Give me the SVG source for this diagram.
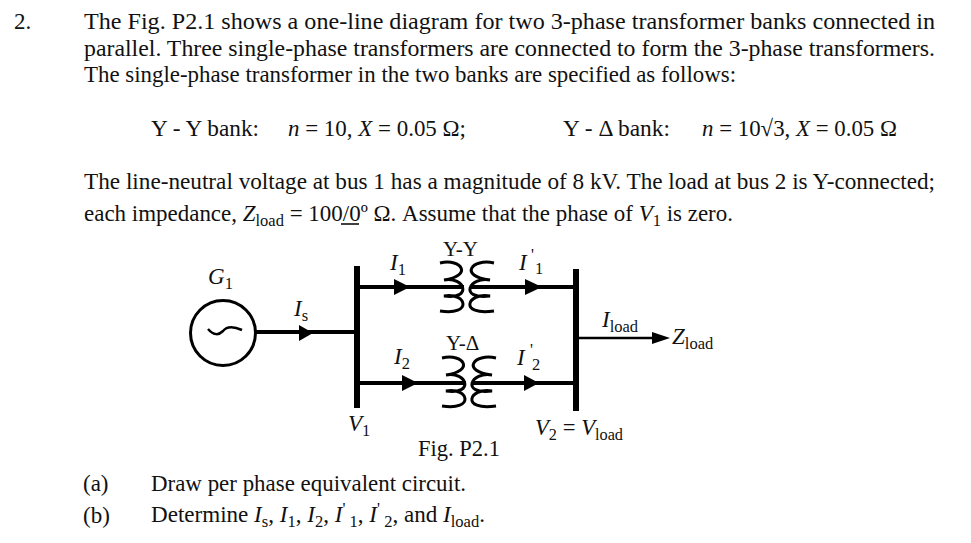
<svg xmlns="http://www.w3.org/2000/svg" width="971" height="543" viewBox="0 0 971 543">
<defs>
<style>
text{font-family:"Liberation Serif","Times New Roman",serif;font-size:23px;fill:#111}
.i{font-style:italic}
.n{font-style:normal}
.s{font-size:16.5px}
.d{font-size:21px}
.w{fill:none;stroke:#000;stroke-width:4;stroke-linecap:butt}
.c{fill:none;stroke:#000;stroke-width:3}
.b{fill:none;stroke:#000;stroke-width:6}
.a{fill:#000}
</style>
<path id="coilL" class="c" d="M440 263C462 258 473 276 444 280C465 276 473 300 444 296C467 292 473 316 440 311"/>
<path id="coilR" class="c" d="M494 263C472 258 458 276 490 280C469 276 458 300 490 296C467 292 458 316 494 311"/>
</defs>
<rect width="971" height="543" fill="#fff"/>
<g id="statement">
<text x="14" y="29">2.</text>
<text x="84" y="29" textLength="851" lengthAdjust="spacingAndGlyphs">The Fig. P2.1 shows a one-line diagram for two 3-phase transformer banks connected in</text>
<text x="84" y="56" textLength="851" lengthAdjust="spacingAndGlyphs">parallel. Three single-phase transformers are connected to form the 3-phase transformers.</text>
<text x="84" y="82" textLength="652" lengthAdjust="spacingAndGlyphs">The single-phase transformer in the two banks are specified as follows:</text>
<text x="151" y="136" textLength="108" lengthAdjust="spacingAndGlyphs">Y - Y bank:</text>
<text x="288" y="136" textLength="178" lengthAdjust="spacingAndGlyphs"><tspan class="i">n</tspan> = 10, <tspan class="i">X</tspan> = 0.05 Ω;</text>
<text x="563" y="136" textLength="107" lengthAdjust="spacingAndGlyphs">Y - Δ bank:</text>
<text x="702" y="136" textLength="195" lengthAdjust="spacingAndGlyphs"><tspan class="i">n</tspan> = 10√3, <tspan class="i">X</tspan> = 0.05 Ω</text>
<text x="84" y="189" textLength="851" lengthAdjust="spacingAndGlyphs">The line-neutral voltage at bus 1 has a magnitude of 8 kV. The load at bus 2 is Y-connected;</text>
<text x="84" y="221" textLength="649" lengthAdjust="spacingAndGlyphs">each impedance, <tspan class="i">Z</tspan><tspan class="s" dy="5">load</tspan><tspan dy="-5"> = 100/0º Ω. Assume that the phase of </tspan><tspan class="i">V</tspan><tspan class="s" dy="5">1</tspan><tspan dy="-5"> is zero.</tspan></text>
<line x1="341" y1="224" x2="359" y2="224" stroke="#000" stroke-width="1.5"/>
</g>
<g id="connectors">
<line class="w" x1="256" y1="332" x2="357" y2="332"/>
<line class="w" x1="357" y1="287" x2="464" y2="287"/>
<line class="w" x1="357" y1="383" x2="466" y2="383"/>
<line class="w" x1="470" y1="287" x2="576" y2="287"/>
<line class="w" x1="472" y1="383" x2="576" y2="383"/>
<line x1="576" y1="338" x2="660" y2="338" stroke="#000" stroke-width="2.5"/>
<polygon class="a" points="299,325 313,333 299,341"/>
<polygon class="a" points="394,279 410,287 394,295"/>
<polygon class="a" points="402,375 418,383 402,391"/>
<polygon class="a" points="525,279 542,287 525,295"/>
<polygon class="a" points="524,375 539,383 524,391"/>
<polygon class="a" points="652,332 670,338 652,344"/>
</g>
<g id="G1">
<circle cx="223" cy="333" r="32.5" fill="#fff" stroke="#000" stroke-width="3"/>
<path d="M208 329C214 336 219 335 223 331C227 326 233 326 242 330" fill="none" stroke="#000" stroke-width="2.5"/>
<text x="208" y="284" class="i">G<tspan class="s n" dy="5">1</tspan></text>
</g>
<g id="Is"><text x="294" y="316" class="i">I<tspan class="s n" dy="5">s</tspan></text></g>
<g id="bus1">
<line class="b" x1="357" y1="266" x2="357" y2="408"/>
<text x="348" y="431" class="i">V<tspan class="s n" dy="5">1</tspan></text>
</g>
<g id="bus2">
<line class="b" x1="576" y1="269" x2="576" y2="411"/>
<text x="535" y="435" textLength="88" lengthAdjust="spacingAndGlyphs"><tspan class="i">V</tspan><tspan class="s" dy="5">2</tspan><tspan dy="-5"> = </tspan><tspan class="i">V</tspan><tspan class="s" dy="5">load</tspan></text>
</g>
<g id="transformerYY">
<use href="#coilL"/><use href="#coilR"/>
<text x="443" y="256" class="d">Y-Y</text>
<text x="390" y="270" class="i">I<tspan class="s n" dy="5">1</tspan></text>
<text x="519" y="270" class="i">I</text>
<text x="531" y="260" class="s">'</text>
<text x="535" y="274" class="s">1</text>
</g>
<g id="transformerYD">
<use href="#coilL" transform="translate(2 95)"/><use href="#coilR" transform="translate(2 95)"/>
<text x="446" y="350" class="d">Y-Δ</text>
<text x="394" y="364" class="i">I<tspan class="s n" dy="5">2</tspan></text>
<text x="517" y="365" class="i">I</text>
<text x="530" y="355" class="s">'</text>
<text x="532" y="370" class="s">2</text>
</g>
<g id="load">
<text x="602" y="327" class="i">I<tspan class="s n" dy="5">load</tspan></text>
<text x="672" y="344" class="i">Z<tspan class="s n" dy="5">load</tspan></text>
</g>
<text x="418" y="456" textLength="82" lengthAdjust="spacingAndGlyphs">Fig. P2.1</text>
<g id="questions">
<text x="83" y="491">(a)</text>
<text x="151" y="491" textLength="315" lengthAdjust="spacingAndGlyphs">Draw per phase equivalent circuit.</text>
<text x="83" y="523">(b)</text>
<text x="151" y="522" textLength="334" lengthAdjust="spacingAndGlyphs">Determine <tspan class="i">I</tspan><tspan class="s" dy="5">s</tspan><tspan dy="-5">, </tspan><tspan class="i">I</tspan><tspan class="s" dy="5">1</tspan><tspan dy="-5">, </tspan><tspan class="i">I</tspan><tspan class="s" dy="5">2</tspan><tspan dy="-5">, </tspan><tspan class="i">I</tspan><tspan class="s" dy="-8">'</tspan><tspan class="s" dy="13"> 1</tspan><tspan dy="-5">, </tspan><tspan class="i">I</tspan><tspan class="s" dy="-8">'</tspan><tspan class="s" dy="13"> 2</tspan><tspan dy="-5">, and </tspan><tspan class="i">I</tspan><tspan class="s" dy="5">load</tspan><tspan dy="-5">.</tspan></text>
</g>
</svg>
